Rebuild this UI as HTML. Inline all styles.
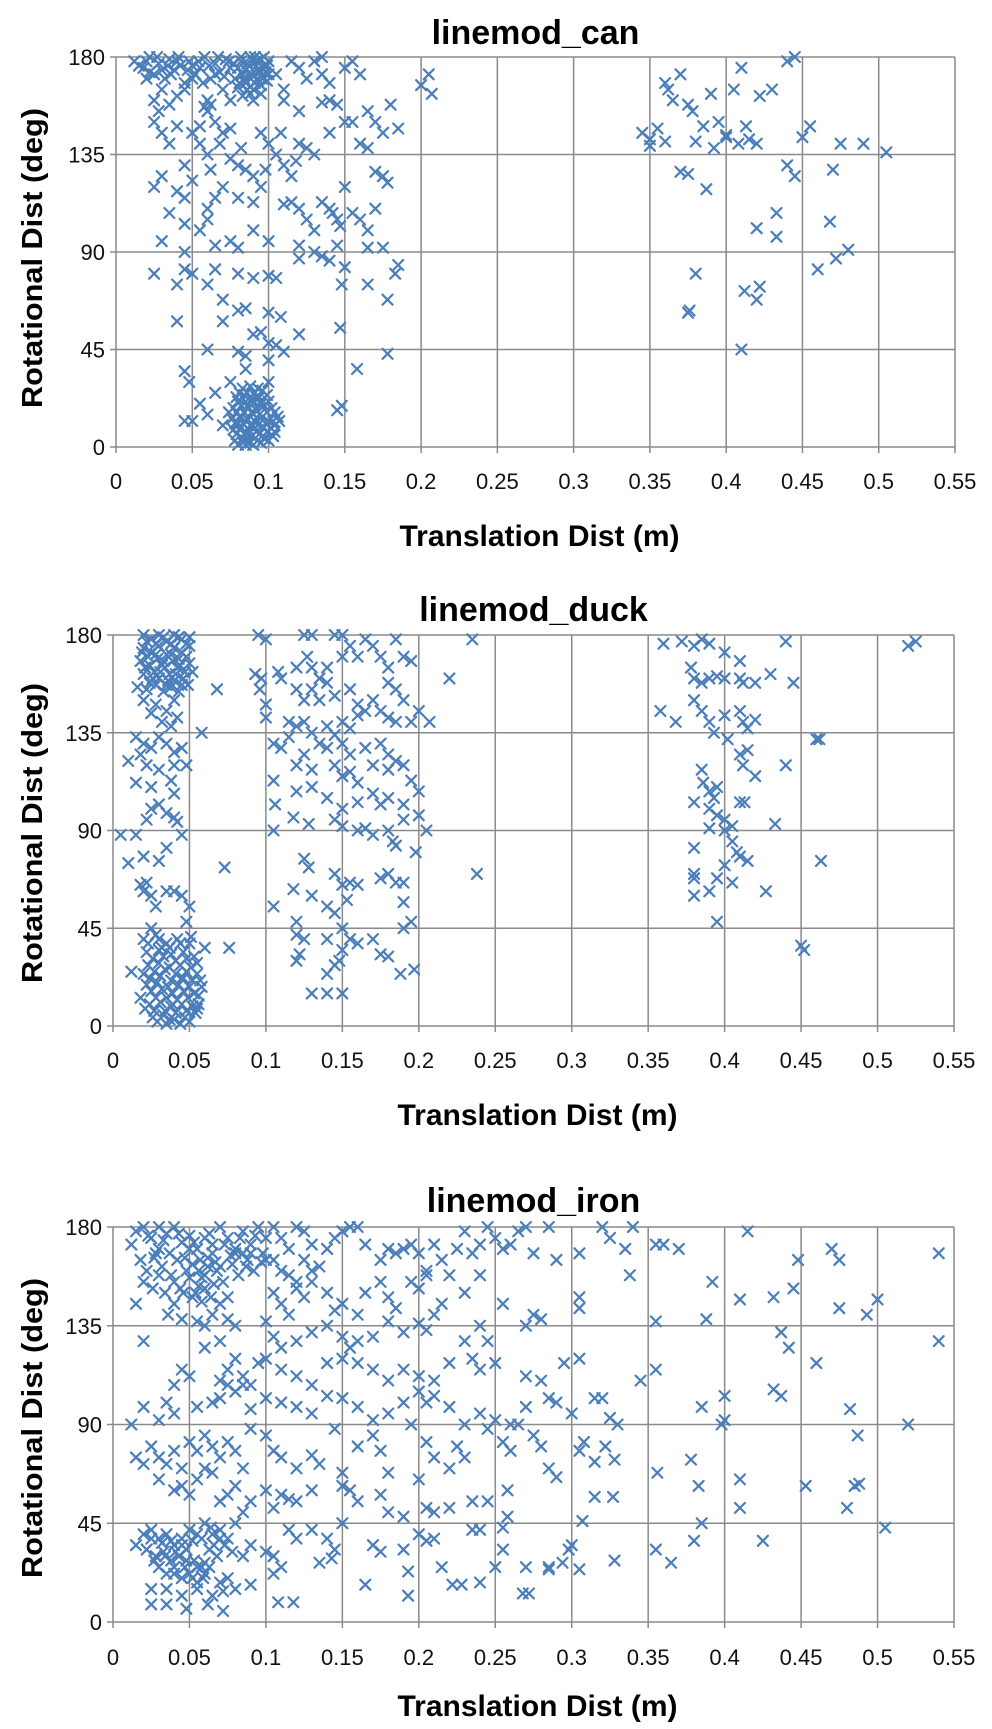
<!DOCTYPE html>
<html><head><meta charset="utf-8"><style>
html,body{margin:0;padding:0;background:#fff;}
svg{display:block;}
.tick{font-family:"Liberation Sans Narrow","Liberation Sans",sans-serif;font-size:22px;fill:#111;}
.ttl{font-family:"Liberation Sans Narrow","Liberation Sans",sans-serif;font-size:34px;font-weight:bold;fill:#000;}
.xt{font-family:"Liberation Sans Narrow","Liberation Sans",sans-serif;font-size:30px;font-weight:bold;fill:#000;}
.yt{font-family:"Liberation Sans",sans-serif;font-size:29px;font-weight:bold;fill:#000;}
</style></head><body>
<svg id="chart" width="992" height="1729" viewBox="0 0 992 1729" xmlns="http://www.w3.org/2000/svg"></svg>
<script>
const xTicks=[0,0.05,0.1,0.15,0.2,0.25,0.3,0.35,0.4,0.45,0.5,0.55];
const xTickLabels=["0","0.05","0.1","0.15","0.2","0.25","0.3","0.35","0.4","0.45","0.5","0.55"];
const yTicks=[0,45,90,135,180];
const yTickLabels=["0","45","90","135","180"];
const chartTitles=["linemod_can","linemod_duck","linemod_iron"];

const canPoints=[[0.012,178],[0.018,175],[0.022,180],[0.025,172],[0.028,177],[0.032,170],[0.035,179],[0.038,174],[0.042,176],[0.045,168],[0.048,178],[0.052,172],[0.055,175],[0.058,180],[0.062,170],[0.065,177],[0.068,173],[0.072,179],[0.075,175],[0.078,170],[0.082,178],[0.085,174],[0.088,180],[0.09,171],[0.092,176],[0.095,179],[0.098,173],[0.1,178],[0.08,166],[0.085,168],[0.09,165],[0.095,167],[0.088,163],[0.093,170],[0.083,172],[0.097,176],[0.091,180],[0.086,177],[0.02,170],[0.03,165],[0.04,162],[0.05,170],[0.06,160],[0.058,157],[0.062,158],[0.06,155],[0.025,160],[0.035,158],[0.045,165],[0.07,165],[0.075,160],[0.105,172],[0.11,165],[0.115,178],[0.12,175],[0.125,170],[0.13,178],[0.135,172],[0.14,168],[0.135,180],[0.155,178],[0.15,175],[0.16,172],[0.14,160],[0.145,158],[0.135,159],[0.11,160],[0.12,155],[0.015,176],[0.03,174],[0.04,178],[0.05,176],[0.065,172],[0.08,175],[0.094,173],[0.099,169],[0.087,171],
[0.025,150],[0.03,145],[0.035,140],[0.028,155],[0.04,148],[0.045,130],[0.05,145],[0.055,140],[0.06,135],[0.065,150],[0.07,145],[0.075,133],[0.08,130],[0.085,128],[0.09,125],[0.095,145],[0.1,140],[0.105,135],[0.11,130],[0.115,125],[0.12,140],[0.125,138],[0.13,135],[0.14,145],[0.15,150],[0.155,150],[0.16,140],[0.165,155],[0.17,150],[0.175,145],[0.18,158],[0.185,147],[0.165,138],[0.175,125],[0.17,127],[0.178,122],[0.03,125],[0.025,120],[0.04,118],[0.045,115],[0.05,123],[0.06,110],[0.065,115],[0.07,120],[0.08,115],[0.09,113],[0.095,120],[0.11,112],[0.115,113],[0.12,110],[0.125,105],[0.13,100],[0.135,113],[0.14,110],[0.145,105],[0.15,120],[0.155,108],[0.16,105],[0.165,100],[0.17,110],[0.035,108],[0.045,103],[0.055,100],[0.06,105],[0.065,93],[0.03,95],[0.075,95],[0.08,92],[0.09,100],[0.1,95],[0.12,93],[0.13,90],[0.135,88],[0.145,93],[0.14,86],[0.165,92],[0.175,92],[0.045,90],[0.062,128],[0.068,140],[0.055,148],[0.075,147],[0.082,138],[0.098,128],[0.108,145],[0.118,132],[0.142,108],[0.147,102],
[0.025,80],[0.04,75],[0.045,82],[0.05,80],[0.06,75],[0.065,82],[0.08,80],[0.09,78],[0.1,79],[0.105,78],[0.12,87],[0.148,75],[0.15,83],[0.165,75],[0.178,68],[0.183,80],[0.185,84],[0.07,68],[0.08,63],[0.085,64],[0.07,58],[0.04,58],[0.1,62],[0.108,60],[0.09,52],[0.095,53],[0.12,52],[0.147,55],[0.1,48],[0.105,47],[0.11,44],[0.08,44],[0.085,42],[0.06,45],[0.178,43],[0.1,40],[0.085,36],[0.045,35],[0.048,30],[0.158,36],[0.075,30],[0.1,30],[0.145,17],[0.148,19],[0.05,12],[0.055,20],[0.06,15],[0.065,25],[0.07,10],[0.045,12],
[0.078,3],[0.083,4],[0.088,2],[0.093,3],[0.098,4],[0.103,5],[0.077,8],[0.082,9],[0.087,8],[0.092,7],[0.097,9],[0.104,10],[0.076,13],[0.081,14],[0.086,13],[0.091,12],[0.096,14],[0.106,14],[0.077,18],[0.082,19],[0.087,18],[0.092,17],[0.097,19],[0.102,18],[0.079,23],[0.084,24],[0.089,22],[0.094,23],[0.099,24],[0.083,27],[0.088,28],[0.093,27],[0.086,6],[0.09,15],[0.095,21],[0.08,11],[0.1,12],[0.074,16],[0.107,12],[0.085,1],
[0.345,145],[0.35,142],[0.355,147],[0.36,168],[0.362,165],[0.365,160],[0.37,172],[0.375,158],[0.378,155],[0.385,148],[0.39,163],[0.395,150],[0.4,143],[0.405,165],[0.41,175],[0.413,148],[0.415,142],[0.42,140],[0.422,162],[0.43,165],[0.44,178],[0.445,180],[0.45,143],[0.455,148],[0.475,140],[0.49,140],[0.505,136],[0.35,139],[0.36,141],[0.38,141],[0.392,138],[0.4,144],[0.408,140],[0.44,130],[0.445,125],[0.47,128],[0.37,127],[0.375,126],[0.387,119],[0.433,108],[0.42,101],[0.433,97],[0.468,104],[0.48,91],[0.472,87],[0.46,82],[0.38,80],[0.412,72],[0.422,74],[0.42,68],[0.375,62],[0.376,63],[0.41,45],[0.2,167],[0.205,172],[0.207,163]];
const canDense=[[0.08,1],[0.085,3],[0.09,1],[0.095,2],[0.1,3],[0.079,6],[0.084,6],[0.089,5],[0.094,6],[0.099,7],[0.104,7],[0.078,11],[0.083,11],[0.088,10],[0.093,10],[0.098,11],[0.103,12],[0.079,16],[0.084,16],[0.089,16],[0.094,15],[0.099,16],[0.104,16],[0.08,21],[0.085,21],[0.09,20],[0.095,20],[0.1,21],[0.081,25],[0.086,25],[0.091,25],[0.096,26],[0.09,10],[0.086,19],[0.092,23],[0.097,4],[0.082,14],
[0.082,180],[0.087,176],[0.092,178],[0.097,180],[0.084,170],[0.089,172],[0.094,174],[0.099,176],[0.081,168],[0.086,165],[0.091,168],[0.096,170],[0.083,162],[0.09,160],[0.095,163],[0.1,172],[0.02,178],[0.027,180],[0.034,176],[0.041,180],[0.047,174],[0.054,178],[0.061,176],[0.067,180],[0.074,178],[0.022,173],[0.036,172],[0.057,168],[0.071,171],[0.077,177]];

const duckPoints=[[0.02,180],[0.025,178],[0.03,180],[0.035,177],[0.04,180],[0.045,178],[0.05,179],[0.02,174],[0.025,172],[0.03,175],[0.035,171],[0.04,174],[0.045,172],[0.05,175],[0.018,168],[0.024,166],[0.029,169],[0.034,165],[0.039,168],[0.044,166],[0.05,167],[0.02,162],[0.026,160],[0.031,163],[0.036,159],[0.041,162],[0.046,160],[0.052,163],[0.016,156],[0.022,155],[0.028,157],[0.033,154],[0.038,156],[0.043,154],[0.049,157],
[0.02,150],[0.028,148],[0.035,145],[0.04,150],[0.032,140],[0.038,138],[0.042,142],[0.025,144],[0.015,133],[0.02,130],[0.025,128],[0.018,125],[0.03,133],[0.035,130],[0.04,126],[0.045,128],[0.048,120],[0.04,120],[0.03,118],[0.022,120],[0.01,122],[0.015,112],[0.025,110],[0.038,113],[0.04,107],[0.03,102],[0.025,100],[0.035,98],[0.04,96],[0.042,94],[0.022,95],[0.045,88],[0.005,88],[0.015,88],[0.01,75],[0.02,78],[0.03,76],[0.035,82],[0.018,65],[0.02,62],[0.022,66],[0.025,60],[0.035,62],[0.04,62],[0.045,60],[0.028,55],[0.05,55],[0.025,45],[0.048,48],[0.058,135],[0.068,155],[0.073,73],[0.076,36],[0.06,36],
[0.02,40],[0.028,42],[0.035,38],[0.042,40],[0.05,38],[0.022,34],[0.03,35],[0.038,33],[0.046,34],[0.053,32],[0.023,28],[0.03,29],[0.037,27],[0.044,28],[0.051,27],[0.024,22],[0.031,23],[0.038,21],[0.045,22],[0.052,21],[0.025,16],[0.032,17],[0.039,15],[0.046,16],[0.053,15],[0.024,10],[0.031,11],[0.038,9],[0.045,10],[0.052,9],[0.026,4],[0.033,5],[0.04,3],[0.047,4],[0.054,6],[0.035,1],[0.012,25],[0.018,13],[0.058,18],[0.056,10],
[0.095,180],[0.1,178],[0.093,162],[0.097,160],[0.096,155],[0.1,148],[0.1,142],[0.108,163],[0.11,160],[0.12,165],[0.125,180],[0.13,180],[0.127,170],[0.13,165],[0.135,160],[0.14,165],[0.145,180],[0.15,180],[0.15,170],[0.155,175],[0.16,170],[0.165,178],[0.17,175],[0.175,170],[0.18,165],[0.185,178],[0.19,170],[0.195,168],[0.18,158],[0.185,155],[0.19,150],[0.12,155],[0.125,150],[0.13,155],[0.135,150],[0.14,158],[0.145,152],[0.155,155],[0.16,148],[0.165,145],[0.17,150],[0.115,140],[0.12,138],[0.125,140],[0.13,135],[0.14,138],[0.145,134],[0.15,140],[0.155,137],[0.16,143],[0.175,145],[0.18,142],[0.185,140],[0.195,140],[0.2,145],[0.207,140],[0.105,130],[0.11,128],[0.115,133],[0.125,125],[0.135,130],[0.14,128],[0.15,130],[0.155,125],[0.165,128],[0.17,120],[0.175,130],[0.18,125],[0.19,120],[0.185,122],[0.12,120],[0.13,118],[0.145,120],[0.15,115],[0.155,117],[0.16,112],[0.18,118],[0.195,113],[0.105,113],[0.12,108],[0.13,110],[0.14,105],[0.15,100],[0.16,103],[0.17,107],[0.175,102],[0.18,105],[0.19,102],[0.2,108],[0.106,102],[0.118,96],[0.128,93],[0.145,95],[0.15,92],[0.16,90],[0.165,91],[0.17,88],[0.18,90],[0.183,85],[0.185,83],[0.19,95],[0.2,97],[0.205,90],[0.105,90],[0.198,80],[0.125,77],[0.128,73],[0.145,70],[0.15,65],[0.155,66],[0.16,65],[0.175,68],[0.18,70],[0.185,66],[0.19,66],[0.118,63],[0.13,60],[0.14,55],[0.145,52],[0.153,58],[0.19,57],[0.105,55],[0.12,48],[0.195,48],[0.19,45],[0.12,42],[0.125,40],[0.14,40],[0.15,45],[0.155,40],[0.16,38],[0.17,40],[0.15,35],[0.175,33],[0.18,32],[0.12,30],[0.122,33],[0.145,28],[0.14,24],[0.148,30],[0.188,24],[0.197,26],[0.13,15],[0.14,15],[0.15,15],[0.235,178],[0.22,160],[0.238,70],
[0.358,145],[0.368,140],[0.36,176],[0.372,177],[0.38,175],[0.385,178],[0.39,176],[0.4,172],[0.41,168],[0.44,177],[0.378,165],[0.38,160],[0.385,158],[0.39,160],[0.395,161],[0.4,160],[0.41,160],[0.412,158],[0.42,158],[0.43,162],[0.445,158],[0.38,150],[0.385,145],[0.39,140],[0.393,135],[0.4,143],[0.41,145],[0.412,140],[0.415,137],[0.42,141],[0.402,132],[0.41,125],[0.412,120],[0.415,127],[0.42,115],[0.44,120],[0.46,132],[0.462,132],[0.385,118],[0.386,112],[0.39,108],[0.393,105],[0.395,110],[0.39,100],[0.38,103],[0.395,97],[0.4,95],[0.4,90],[0.405,92],[0.39,91],[0.41,103],[0.413,103],[0.405,85],[0.408,80],[0.41,78],[0.415,76],[0.4,74],[0.38,82],[0.38,70],[0.38,68],[0.395,68],[0.405,66],[0.38,60],[0.39,62],[0.427,62],[0.395,48],[0.433,93],[0.463,76],[0.45,37],[0.452,35],[0.52,175],[0.525,177]];
const duckDense=[[0.023,38],[0.03,40],[0.037,36],[0.044,38],[0.051,41],[0.026,31],[0.033,32],[0.041,30],[0.048,31],[0.055,29],[0.027,25],[0.034,26],[0.041,24],[0.048,25],[0.055,24],[0.022,19],[0.029,20],[0.036,18],[0.043,19],[0.05,18],[0.057,21],[0.028,13],[0.035,13],[0.042,12],[0.049,13],[0.056,14],[0.027,7],[0.034,7],[0.041,6],[0.048,7],[0.055,8],[0.029,2],[0.037,3],[0.044,1],[0.05,2],[0.021,8],[0.02,24],[0.032,36],[0.046,22],[0.039,10],
[0.022,177],[0.028,176],[0.033,179],[0.038,176],[0.043,179],[0.048,176],[0.023,170],[0.028,171],[0.033,168],[0.038,171],[0.043,169],[0.048,170],[0.021,165],[0.027,163],[0.032,166],[0.037,162],[0.042,165],[0.047,163],[0.024,158],[0.03,160],[0.035,157],[0.04,159],[0.045,157],[0.019,172]];

const ironPoints=[[0.012,172],[0.015,178],[0.02,180],[0.025,175],[0.03,180],[0.035,177],[0.04,180],[0.045,173],[0.05,176],[0.055,170],[0.06,175],[0.065,168],[0.07,180],[0.075,175],[0.08,170],[0.085,178],[0.09,172],[0.095,180],[0.1,175],[0.018,165],[0.022,160],[0.028,168],[0.032,162],[0.038,158],[0.042,165],[0.048,160],[0.052,163],[0.058,157],[0.062,166],[0.068,160],[0.072,155],[0.078,163],[0.082,158],[0.088,165],[0.092,160],[0.098,168],[0.02,155],[0.026,152],[0.034,150],[0.04,145],[0.046,150],[0.052,148],[0.056,153],[0.06,152],[0.065,140],[0.07,145],[0.075,148],[0.036,140],[0.045,138],[0.055,137],[0.06,135],[0.075,138],[0.08,135],[0.015,145],[0.02,128],[0.05,170],[0.065,172],[0.03,170],[0.085,168],[0.1,165],
[0.105,180],[0.11,175],[0.115,170],[0.12,180],[0.125,178],[0.13,172],[0.105,165],[0.11,160],[0.115,158],[0.12,155],[0.125,165],[0.13,160],[0.135,162],[0.14,170],[0.145,175],[0.15,178],[0.155,180],[0.16,180],[0.165,172],[0.175,165],[0.18,170],[0.185,168],[0.19,170],[0.195,172],[0.2,168],[0.205,160],[0.21,172],[0.215,165],[0.22,158],[0.225,170],[0.23,178],[0.235,168],[0.24,172],[0.245,180],[0.25,175],[0.255,170],[0.26,172],[0.265,178],[0.27,180],[0.275,168],[0.285,180],[0.29,165],[0.305,168],[0.32,180],[0.325,175],[0.335,170],[0.34,180],[0.355,172],[0.36,172],[0.37,170],[0.415,178],[0.47,170],[0.475,165],[0.54,168],[0.448,165],[0.338,158],[0.392,155],[0.445,152],[0.41,147],[0.432,148],[0.5,147],[0.305,148],[0.305,143],[0.475,143],[0.493,140],[0.388,138],[0.355,137],[0.437,132],[0.442,125],[0.54,128],[0.46,118],
[0.105,150],[0.11,145],[0.115,140],[0.12,152],[0.125,148],[0.13,155],[0.14,150],[0.145,142],[0.15,145],[0.16,140],[0.165,150],[0.175,155],[0.18,148],[0.185,143],[0.195,155],[0.2,152],[0.205,158],[0.21,140],[0.215,145],[0.23,150],[0.24,158],[0.255,145],[0.275,140],[0.28,138],[0.1,137],[0.105,130],[0.11,125],[0.12,128],[0.13,132],[0.14,135],[0.15,130],[0.155,125],[0.16,128],[0.17,130],[0.18,137],[0.19,132],[0.2,136],[0.205,133],[0.23,128],[0.24,135],[0.245,128],[0.27,135],[0.06,125],[0.07,128],[0.075,115],[0.08,120],[0.085,112],[0.09,108],[0.095,118],[0.1,120],[0.11,115],[0.12,112],[0.13,108],[0.14,118],[0.15,120],[0.16,118],[0.17,115],[0.18,110],[0.19,115],[0.2,112],[0.21,110],[0.22,118],[0.235,120],[0.24,115],[0.25,118],[0.27,112],[0.28,110],[0.295,118],[0.305,120],[0.345,110],[0.355,115],[0.045,115],[0.05,112],[0.04,108],[0.07,110],[0.075,108],[0.08,105],[0.085,108],[0.1,102],[0.11,100],[0.12,98],[0.13,95],[0.14,103],[0.15,102],[0.16,98],[0.17,92],[0.18,95],[0.19,100],[0.2,105],[0.205,100],[0.21,103],[0.22,98],[0.23,90],[0.24,95],[0.25,92],[0.26,90],[0.27,98],[0.285,102],[0.29,100],[0.3,95],[0.315,102],[0.32,102],[0.325,93],[0.33,90],[0.385,98],[0.4,103],[0.4,92],[0.398,90],[0.432,106],[0.437,103],[0.482,97],[0.52,90],[0.487,85],[0.02,98],[0.03,92],[0.035,100],[0.04,95],[0.055,98],[0.065,100],[0.07,102],[0.09,97],[0.012,90],
[0.025,80],[0.03,75],[0.035,72],[0.04,78],[0.045,70],[0.05,82],[0.055,78],[0.06,85],[0.065,80],[0.07,75],[0.075,82],[0.08,78],[0.085,70],[0.09,88],[0.1,85],[0.105,78],[0.11,75],[0.12,70],[0.13,76],[0.135,72],[0.145,88],[0.15,68],[0.16,80],[0.17,85],[0.175,78],[0.18,68],[0.195,90],[0.2,65],[0.205,82],[0.21,75],[0.22,70],[0.225,80],[0.23,75],[0.245,88],[0.255,82],[0.26,78],[0.265,90],[0.275,85],[0.28,80],[0.285,70],[0.29,66],[0.305,78],[0.308,82],[0.315,73],[0.322,80],[0.328,74],[0.356,68],[0.378,74],[0.383,62],[0.41,65],[0.453,62],[0.485,62],[0.488,63],[0.02,72],[0.015,75],[0.03,65],[0.04,60],[0.045,62],[0.05,58],[0.055,65],[0.06,70],[0.065,68],[0.07,55],[0.075,58],[0.08,62],[0.085,50],[0.09,55],[0.1,60],[0.105,52],[0.11,58],[0.115,56],[0.12,55],[0.13,60],[0.15,62],[0.155,60],[0.16,55],[0.175,58],[0.18,50],[0.19,48],[0.205,52],[0.21,50],[0.22,52],[0.235,55],[0.245,55],[0.258,60],[0.315,57],[0.327,57],[0.41,52],[0.48,52],[0.258,48],[0.307,46],[0.385,45],[0.505,43],
[0.02,40],[0.025,42],[0.03,38],[0.035,40],[0.04,35],[0.045,38],[0.05,42],[0.055,40],[0.06,45],[0.065,40],[0.07,42],[0.075,38],[0.08,45],[0.015,35],[0.022,33],[0.028,30],[0.033,32],[0.038,28],[0.043,30],[0.048,33],[0.053,28],[0.058,25],[0.063,25],[0.068,30],[0.073,35],[0.078,32],[0.03,25],[0.035,22],[0.04,25],[0.045,20],[0.05,22],[0.055,18],[0.06,22],[0.07,18],[0.075,20],[0.085,30],[0.09,35],[0.1,32],[0.105,30],[0.11,25],[0.115,42],[0.12,38],[0.13,42],[0.14,38],[0.145,33],[0.15,45],[0.17,35],[0.175,32],[0.19,33],[0.2,40],[0.205,37],[0.21,38],[0.235,42],[0.24,42],[0.255,43],[0.255,33],[0.298,33],[0.3,35],[0.355,33],[0.38,37],[0.425,37],[0.365,27],[0.328,28],[0.294,27],[0.305,24],[0.27,25],[0.285,24],[0.285,25],[0.25,25],[0.215,25],[0.193,23],[0.135,27],[0.143,29],[0.025,15],[0.035,15],[0.045,12],[0.055,15],[0.065,12],[0.072,14],[0.08,15],[0.09,17],[0.165,17],[0.222,17],[0.228,17],[0.24,18],[0.268,13],[0.272,13],[0.193,12],[0.025,8],[0.035,8],[0.048,6],[0.062,8],[0.072,5],[0.108,9],[0.118,9],[0.105,22]];
const ironDense=[[0.023,176],[0.033,174],[0.043,177],[0.053,173],[0.063,177],[0.073,172],[0.083,175],[0.093,176],[0.027,166],[0.037,168],[0.047,166],[0.057,165],[0.067,164],[0.077,167],[0.087,162],[0.097,164],[0.03,158],[0.04,155],[0.05,157],[0.06,158],[0.066,154],[0.07,162],[0.056,160],[0.062,162],[0.054,150],[0.058,146],[0.044,152],[0.064,148],[0.08,168],[0.09,168],
[0.025,38],[0.032,36],[0.038,37],[0.045,35],[0.052,37],[0.058,38],[0.064,43],[0.07,38],[0.027,28],[0.034,30],[0.041,32],[0.048,28],[0.055,25],[0.06,27],[0.066,35],[0.04,22],[0.047,25],[0.052,20],[0.059,20],[0.063,33]];

const plots=[
 {title:0,data:canPoints.concat(canDense),left:116,right:955,top:57,bottom:447,ttlY:44,tickY:489,xtY:546,ytY:258,name:"can"},
 {title:1,data:duckPoints.concat(duckDense),left:113,right:954,top:635,bottom:1026,ttlY:621,tickY:1068,xtY:1125,ytY:833,name:"duck"},
 {title:2,data:ironPoints.concat(ironDense),left:113,right:954,top:1227,bottom:1622,ttlY:1212,tickY:1665,xtY:1716,ytY:1428,name:"iron"}
];
const NS="http://www.w3.org/2000/svg";
const svg=document.getElementById('chart');
function mk(tag,attrs,parent){const e=document.createElementNS(NS,tag);for(const k in attrs)e.setAttribute(k,attrs[k]);(parent||svg).appendChild(e);return e;}
plots.forEach(p=>{
  const g=mk('g',{});
  
  
  const xs=v=>p.left+(v/0.55)*(p.right-p.left);
  const ys=v=>p.bottom-(v/180)*(p.bottom-p.top);
  const grid=mk('g',{stroke:'#8a8a8a','stroke-width':1.5},g);
  
  
  xTicks.forEach(t=>{const x=xs(t);mk('line',{x1:x,x2:x,y1:p.top,y2:p.bottom+6},grid);});
  yTicks.forEach(t=>{const y=ys(t);mk('line',{x1:p.left-6,x2:p.right,y1:y,y2:y},grid);});
  xTicks.forEach((t,i)=>{const tx=mk('text',{x:xs(t),y:p.tickY,'text-anchor':'middle',class:'tick'},g);tx.textContent=xTickLabels[i];
    
    });
  yTicks.forEach((t,i)=>{const tx=mk('text',{x:p.left-11,y:ys(t)+8,'text-anchor':'end',class:'tick'},g);tx.textContent=yTickLabels[i];
    
    });
  const tt=mk('text',{x:(p.left+p.right)/2,y:p.ttlY,'text-anchor':'middle',class:'ttl'},g);tt.textContent=chartTitles[p.title];
  
  
  const xt=mk('text',{x:(p.left+p.right)/2+4,y:p.xtY,'text-anchor':'middle',class:'xt'},g);xt.textContent='Translation Dist (m)';
  
  
  const yt=mk('text',{x:0,y:0,'text-anchor':'middle',class:'yt',textLength:300,lengthAdjust:'spacingAndGlyphs',transform:`translate(42,${p.ytY}) rotate(-90)`},g);yt.textContent='Rotational Dist (deg)';
  
  
  const pts=mk('g',{stroke:'#4a7ebb','stroke-width':2.2,'stroke-linecap':'round'},g);
  
  
  const s=5;
  p.data.forEach(d=>{const x=xs(d[0]),y=ys(d[1]);
    const m=mk('path',{d:`M${x-s},${y-s}L${x+s},${y+s}M${x-s},${y+s}L${x+s},${y-s}`},pts);
    
    });
});
</script>
</body></html>
